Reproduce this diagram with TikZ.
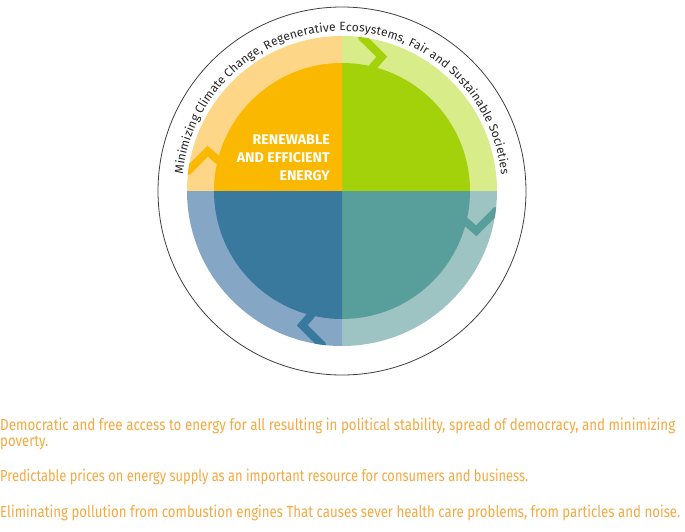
\documentclass[tikz,border=0pt]{standalone}
\usepackage{fontspec}
\setmainfont{Fira Sans}
\usetikzlibrary{decorations.text}
\definecolor{oL}{HTML}{FDD787}\definecolor{oD}{HTML}{FBB800}
\definecolor{gL}{HTML}{D8EC8A}\definecolor{gD}{HTML}{A3D10A}
\definecolor{tL}{HTML}{9DC4C3}\definecolor{tD}{HTML}{589F9B}
\definecolor{bL}{HTML}{85A7C5}\definecolor{bD}{HTML}{3A799E}
\definecolor{txt}{HTML}{F6A941}
\tikzset{chev/.style={line width=8pt,line join=miter},
  btxt/.style={anchor=base west,inner sep=0pt,text=txt,font=\fontsize{16}{18}\selectfont}}
\begin{document}
\begin{tikzpicture}[x=1pt,y=1pt]
\useasboundingbox (-342,-340) rectangle (343,191);
\fill[white] (-342,-340) rectangle (343,191);
\draw[black!75,line width=0.8pt] (0,0) circle (184);
% bands
\fill[oL] (0,0) -- (180:155) arc (180:90:155) -- cycle;
\fill[gL] (0,0) -- (90:155) arc (90:0:155) -- cycle;
\fill[tL] (0,0) -- (0:155) arc (0:-90:155) -- cycle;
\fill[bL] (0,0) -- (-90:155) arc (-90:-180:155) -- cycle;
% chevrons
\begin{scope}
\clip (0,0) circle (155);
\foreach \r/\c in {0/gD,-90/tD,-180/bD,-270/oD}{
  \draw[chev,\c] (\r+83:160) -- (\r+82.5:155) -- (\r+73.5:140) -- (\r+76:128) -- (\r+77:120);
}
\end{scope}
% inner
\fill[oD] (0,0) -- (180:128) arc (180:90:128) -- cycle;
\fill[gD] (0,0) -- (90:128) arc (90:0:128) -- cycle;
\fill[tD] (0,0) -- (0:128) arc (0:-90:128) -- cycle;
\fill[bD] (0,0) -- (-90:128) arc (-90:-180:128) -- cycle;
\node[anchor=north east,inner sep=0pt,text=white,font=\bfseries\fontsize{14}{19}\selectfont] (lab) at (-12,60)
  {\resizebox{93pt}{\height}{\begin{tabular}{@{}r@{}}RENEWABLE\\[-1pt] AND EFFICIENT\\[-1pt] ENERGY\end{tabular}}};
\path[decorate,decoration={text along path,text align=fit to path,
  text={|\color{black!85}\fontsize{12}{14}\selectfont|Minimizing Climate Change, Regenerative Ecosystems, Fair and Sustainable Societies}}]
  (174:160) arc (174:6:160);
\node[btxt] (l1) at (-342,-239) {\resizebox{675pt}{\height}{Democratic and free access to energy for all resulting in political stability, spread of democracy, and minimizing}};
\node[btxt] (l2) at (-342,-255) {\resizebox{48pt}{\height}{poverty.}};
\node[btxt] (l3) at (-342,-290) {\resizebox{528pt}{\height}{Predictable prices on energy supply as an important resource for consumers and business.}};
\node[btxt] (l4) at (-342,-326) {\resizebox{680pt}{\height}{Eliminating pollution from combustion engines That causes sever health care problems, from particles and noise.}};
\end{tikzpicture}
\end{document}
